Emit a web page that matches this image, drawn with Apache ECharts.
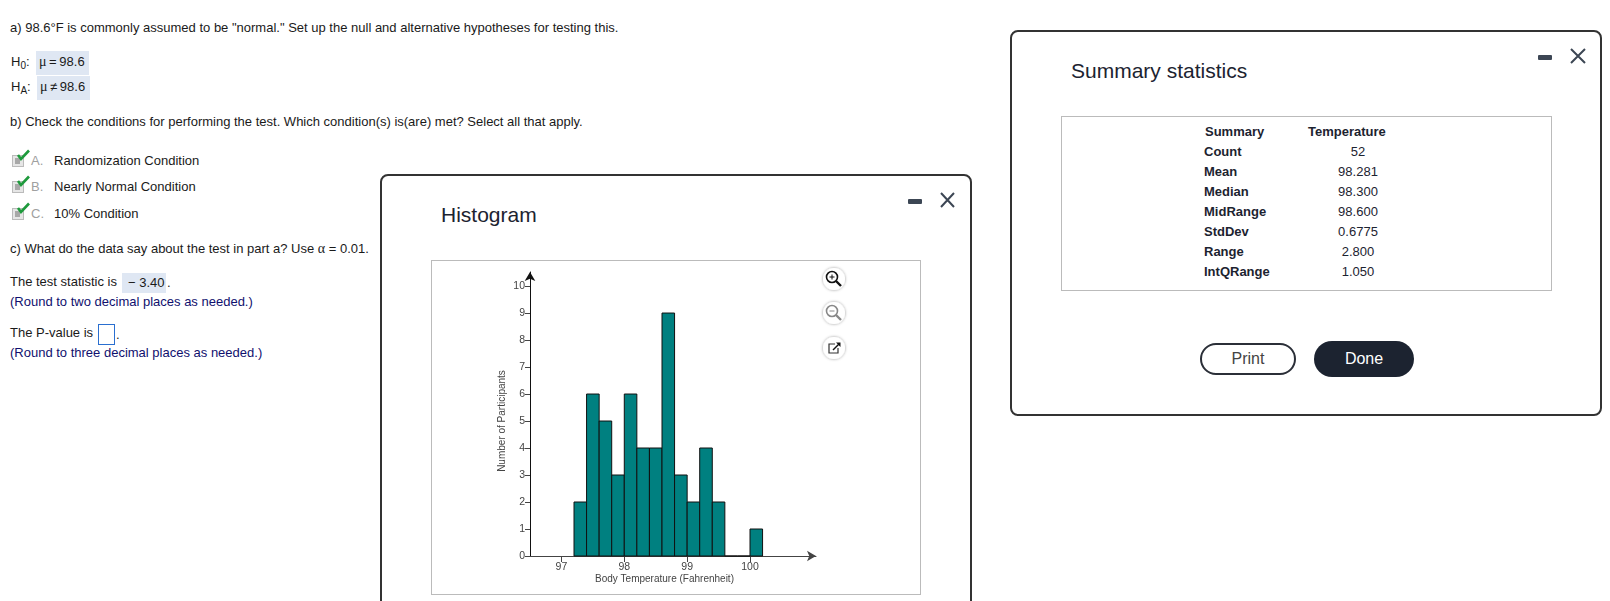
<!DOCTYPE html>
<html>
<head>
<meta charset="utf-8">
<title>Histogram</title>
<script src="https://cdn.jsdelivr.net/npm/echarts@6/dist/echarts.min.js"></script>
<style>
  html, body { margin: 0; padding: 0; width: 1610px; height: 601px; overflow: hidden; background: #fff; }
  body { font-family: "Liberation Sans", Arial, sans-serif; font-size: 13px; color: #1a1a1a; position: relative; }
  .t { position: absolute; white-space: nowrap; line-height: 20px; }
  .navy { color: #10106e; }
  .gray { color: #a0a0a0; }
  .mu { font-family: "Liberation Serif", serif; font-size: 14px; }
  .fill { position: absolute; background: #dfe7f3; }
  .modal { position: absolute; box-sizing: border-box; background: #fff; border: 2px solid #333; border-radius: 8px; }
  .frame { position: absolute; box-sizing: border-box; border: 1px solid #bbb; }
  .title { font-size: 21px; color: #1c2330; line-height: 28px; }
  .stat { font-size: 13px; font-weight: bold; color: #1c2330; }
  .val { font-size: 13px; color: #1c2330; text-align: center; width: 80px; }
  .btn { position: absolute; box-sizing: border-box; border-radius: 20px; text-align: center; font-size: 16px; }
  svg { position: absolute; overflow: visible; }
  sub { font-size: 10px; line-height: 0; vertical-align: -3px; }
  #hist { position: absolute; left: 431px; top: 260px; width: 489px; height: 335px; }
</style>
</head>
<body>

<div class="t" style="left:10px;top:18px">a) 98.6&deg;F is commonly assumed to be "normal." Set up the null and alternative hypotheses for testing this.</div>

<div class="fill" style="left:36px;top:51px;width:53px;height:24px"></div>
<div class="fill" style="left:37px;top:76px;width:53px;height:24px"></div>
<div class="t" style="left:11px;top:52px">H<sub>0</sub>:</div>
<div class="t" style="left:39px;top:52px"><span class="mu">&mu;</span>&thinsp;=&thinsp;98.6</div>
<div class="t" style="left:11px;top:77px">H<sub>A</sub>:</div>
<div class="t" style="left:40px;top:77px"><span class="mu">&mu;</span>&thinsp;&ne;&thinsp;98.6</div>

<div class="t" style="left:10px;top:112px">b) Check the conditions for performing the test. Which condition(s) is(are) met? Select all that apply.</div>

<svg style="left:12px;top:150px" width="20" height="18"><rect x="0.5" y="5.5" width="11" height="11" fill="#e6e6e6" stroke="#bbb"/><path d="M3 8 H8 V14 H3 Z" fill="#a8a8a8"/><path d="M6 5 L9 9 L17 0.5" fill="none" stroke="#1e9a3c" stroke-width="2.6"/></svg>
<div class="t gray" style="left:31px;top:151px">A.</div>
<div class="t" style="left:54px;top:151px">Randomization Condition</div>
<svg style="left:12px;top:176px" width="20" height="18"><rect x="0.5" y="5.5" width="11" height="11" fill="#e6e6e6" stroke="#bbb"/><path d="M3 8 H8 V14 H3 Z" fill="#a8a8a8"/><path d="M6 5 L9 9 L17 0.5" fill="none" stroke="#1e9a3c" stroke-width="2.6"/></svg>
<div class="t gray" style="left:31px;top:177px">B.</div>
<div class="t" style="left:54px;top:177px">Nearly Normal Condition</div>
<svg style="left:12px;top:203px" width="20" height="18"><rect x="0.5" y="5.5" width="11" height="11" fill="#e6e6e6" stroke="#bbb"/><path d="M3 8 H8 V14 H3 Z" fill="#a8a8a8"/><path d="M6 5 L9 9 L17 0.5" fill="none" stroke="#1e9a3c" stroke-width="2.6"/></svg>
<div class="t gray" style="left:31px;top:204px">C.</div>
<div class="t" style="left:54px;top:204px">10% Condition</div>

<div class="t" style="left:10px;top:239px">c) What do the data say about the test in part a? Use <span class="mu">&alpha;</span> = 0.01.</div>

<div class="t" style="left:10px;top:272px">The test statistic is</div>
<div class="fill" style="left:122px;top:273px;width:44px;height:20px"></div>
<div class="t" style="left:128px;top:273px">&minus; 3.40</div>
<div class="t" style="left:167px;top:273px">.</div>
<div class="t navy" style="left:10px;top:292px">(Round to two decimal places as needed.)</div>

<div class="t" style="left:10px;top:323px">The P-value is</div>
<div style="position:absolute;box-sizing:border-box;left:98px;top:324px;width:17px;height:21px;border:1px solid #2a6fd0"></div>
<div class="t" style="left:116px;top:325px">.</div>
<div class="t navy" style="left:10px;top:343px">(Round to three decimal places as needed.)</div>

<!-- histogram window, runs off the bottom of the page -->
<div class="modal" style="left:380px;top:174px;width:592px;height:460px"></div>
<div class="t title" style="left:441px;top:201px">Histogram</div>
<svg style="left:0;top:0" width="1" height="1">
  <rect x="908" y="199" width="14" height="5" rx="1" fill="#3c4654"/>
  <path d="M941 193 L954 207 M954 193 L941 207" stroke="#3c4654" stroke-width="2" fill="none"/>
</svg>
<div class="frame" style="left:431px;top:260px;width:490px;height:335px"></div>
<div id="hist"></div>
<svg style="left:0;top:0" width="1" height="1">
  <defs><filter id="sh" x="-50%" y="-50%" width="200%" height="200%"><feDropShadow dx="0" dy="0" stdDeviation="1.6" flood-color="#000" flood-opacity="0.4"/></filter></defs>
  <circle cx="834" cy="279" r="11" fill="#fff" filter="url(#sh)"/>
  <circle cx="834" cy="313" r="11" fill="#fff" filter="url(#sh)"/>
  <circle cx="834" cy="348" r="11" fill="#fff" filter="url(#sh)"/>
  <g fill="none" stroke="#111" stroke-width="1.6">
    <circle cx="832" cy="277" r="5.5"/><path d="M836 281 L841 286" stroke-width="2.4"/><path d="M829.5 277 H834.5 M832 274.5 V279.5" stroke-width="1"/>
  </g>
  <g fill="none" stroke="#888" stroke-width="1.6">
    <circle cx="832" cy="311" r="5.5"/><path d="M836 315 L841 320" stroke-width="2.4"/><path d="M829.5 311 H834.5" stroke-width="1"/>
  </g>
  <g fill="none" stroke="#333" stroke-width="1.2">
    <path d="M835 344 H829 V353 H838 V348"/><path d="M833 350 L839 344" stroke="#111" stroke-width="1.4"/><path d="M836 342.5 H840.5 V347 Z" fill="#111" stroke="none"/>
  </g>
</svg>

<!-- summary statistics window -->
<div class="modal" style="left:1010px;top:30px;width:592px;height:386px"></div>
<div class="t title" style="left:1071px;top:57px">Summary statistics</div>
<svg style="left:0;top:0" width="1" height="1">
  <rect x="1538" y="55" width="14" height="5" rx="1" fill="#3c4654"/>
  <path d="M1571 49 L1585 63 M1585 49 L1571 63" stroke="#3c4654" stroke-width="2" fill="none"/>
</svg>
<div class="frame" style="left:1061px;top:116px;width:491px;height:175px"></div>
<div id="statRows"></div>

<div class="btn" style="left:1200px;top:343px;width:96px;height:32px;border:2px solid #2b2f38;color:#444;line-height:28px">Print</div>
<div class="btn" style="left:1314px;top:341px;width:100px;height:36px;background:#1c2330;color:#fff;line-height:36px">Done</div>

<script>
var BIN_STARTS = [97.2, 97.4, 97.6, 97.8, 98.0, 98.2, 98.4, 98.6, 98.8, 99.0, 99.2, 99.4, 99.6, 99.8, 100.0];
var BIN_COUNTS = [2, 6, 5, 3, 6, 4, 4, 9, 3, 2, 4, 2, 0, 0, 1];
var BIN_WIDTH = 0.2;
var X_TICKS = [97, 98, 99, 100];
var Y_TICKS = [0, 1, 2, 3, 4, 5, 6, 7, 8, 9, 10];

var STAT_NAMES = ['Count', 'Mean', 'Median', 'MidRange', 'StdDev', 'Range', 'IntQRange'];
var STAT_VALUES = ['52', '98.281', '98.300', '98.600', '0.6775', '2.800', '1.050'];

function drawStats() {
  var box = document.getElementById('statRows');
  var html = '<div class="t stat" style="left:1205px;top:122px">Summary</div>' +
    '<div class="t stat" style="left:1308px;top:122px">Temperature</div>';
  STAT_NAMES.forEach(function (name, i) {
    var top = 142 + i * 20;
    html += '<div class="t stat" style="left:1204px;top:' + top + 'px">' + name + '</div>';
    html += '<div class="t val" style="left:1318px;top:' + top + 'px">' + STAT_VALUES[i] + '</div>';
  });
  box.innerHTML = html;
}

function renderBar(params, api) {
  var lo = api.coord([api.value(0), 0]);
  var hi = api.coord([api.value(1), api.value(2)]);
  return {
    type: 'rect',
    shape: { x: lo[0], y: hi[1], width: hi[0] - lo[0], height: lo[1] - hi[1] },
    style: { fill: '#008080', stroke: '#111', lineWidth: 1 }
  };
}

function drawHistogram() {
  var chart = echarts.init(document.getElementById('hist'), null, { renderer: 'canvas' });
  chart.setOption({
    animation: false,
    grid: { left: 99, top: 12, width: 286, height: 284 },
    xAxis: {
      type: 'value', min: 96.5, max: 101.05,
      name: 'Body Temperature (Fahrenheit)', nameLocation: 'middle', nameGap: 18, nameMoveOverlap: false,
      nameTextStyle: { fontFamily: 'Liberation Sans', fontSize: 10, color: '#444', padding: [0, 17, 0, 0] },
      splitLine: { show: false },
      axisLine: { onZero: false, lineStyle: { color: '#444' }, symbol: ['none', 'arrow'], symbolSize: [8, 9] },
      axisTick: { customValues: X_TICKS, length: 6, lineStyle: { color: '#444' } },
      axisLabel: { customValues: X_TICKS, margin: 6, hideOverlap: false, formatter: String, fontFamily: 'Liberation Sans', fontSize: 10.5, color: '#444' }
    },
    yAxis: {
      type: 'value', min: 0, max: 10.52,
      name: 'Number of Participants', nameLocation: 'middle', nameGap: 23, nameMoveOverlap: false,
      nameTextStyle: { fontFamily: 'Liberation Sans', fontSize: 10, color: '#444', padding: [0, 0, 0, -14] },
      splitLine: { show: false },
      axisLine: { onZero: false, lineStyle: { color: '#111' }, symbol: ['none', 'arrow'], symbolSize: [8, 9] },
      axisTick: { customValues: Y_TICKS, length: 5, lineStyle: { color: '#444' } },
      axisLabel: { customValues: Y_TICKS, margin: 5, hideOverlap: false, formatter: String, fontFamily: 'Liberation Sans', fontSize: 10.5, color: '#444' }
    },
    series: [{
      type: 'custom',
      renderItem: renderBar,
      clip: false,
      encode: { x: [0, 1], y: 2 },
      data: BIN_STARTS.map(function (start, i) {
        return [start, Math.round((start + BIN_WIDTH) * 10) / 10, BIN_COUNTS[i]];
      })
    }]
  });
}

drawStats();
drawHistogram();
</script>
</body>
</html>
